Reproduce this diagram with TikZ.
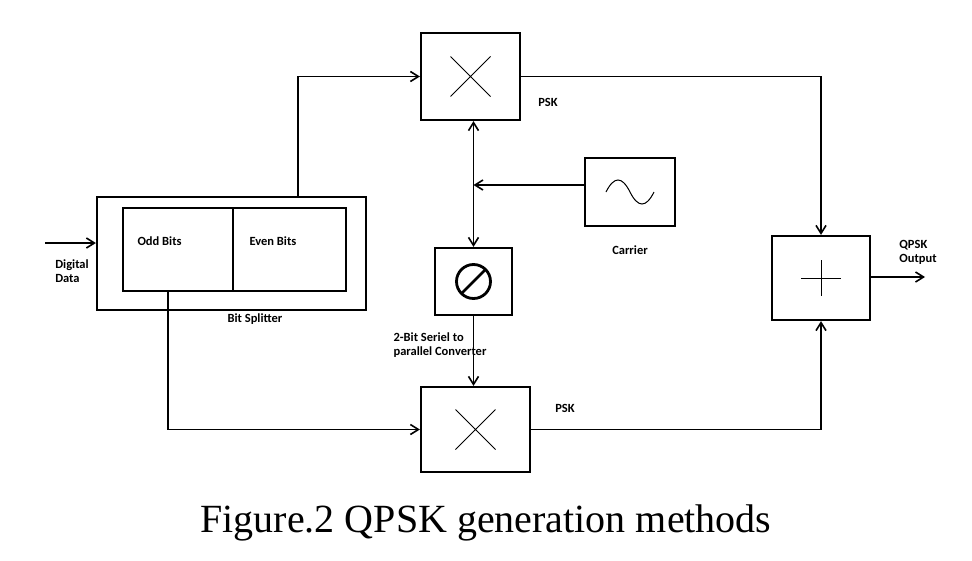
\documentclass[tikz,border=0pt]{standalone}
\usepackage{fontspec}
\setmainfont{Carlito}
\newfontfamily\capfont{Liberation Serif}
\usetikzlibrary{arrows.meta}
\begin{document}
\begin{tikzpicture}[x=1pt,y=-1pt,
  blk/.style={draw,line width=2.2pt,inner sep=0pt},
  ln/.style={line width=1.6pt},
  arr/.style={ln,-{Straight Barb[length=8pt,width=10pt]}},
  lbl/.style={font=\bfseries\fontsize{12.5}{14}\selectfont,align=left}]
\useasboundingbox (0,0) rectangle (972,560);
% blocks
\node[blk,minimum width=99pt,minimum height=87pt] (m1) at (470.5,76.5) {};
\node[blk,minimum width=109pt,minimum height=85pt] (m2) at (475.5,429.5) {};
\node[blk,minimum width=90pt,minimum height=68pt] (car) at (630,192) {};
\node[blk,minimum width=77pt,minimum height=67pt] (div) at (473.5,281.5) {};
\node[blk,minimum width=98pt,minimum height=84pt] (sum) at (821,278) {};
\node[blk,minimum width=269pt,minimum height=113pt] (bs) at (231.5,253.5) {};
\node[blk,minimum width=110pt,minimum height=83pt,anchor=north west] (odd) at (122,207) {};
\node[blk,minimum width=113pt,minimum height=83pt,anchor=north west] (even) at (232,207) {};
% symbols
\draw[line width=1pt] (m1.center)+(-20,-20) -- +(20,20) (m1.center)+(-20,20) -- +(20,-20);
\draw[line width=1pt] (m2.center)+(-20,-20) -- +(20,20) (m2.center)+(-20,20) -- +(20,-20);
\draw[line width=1pt] (sum.center)+(-20,0) -- +(20,0) (sum.center)+(0,-18) -- +(0,18);
\draw[line width=1pt] (606,192) .. controls (614,176) and (622,176) .. (630,192) .. controls (638,208) and (646,208) .. (654,192);
\draw[line width=2.8pt] (div.center) circle (17);
\draw[line width=2.8pt] (div.center)+(-12,12) -- +(12,-12);
% texts
\node[lbl,anchor=north west] at (134,233) {Odd Bits};
\node[lbl,anchor=north west] at (246,233) {Even Bits};
\node[lbl] at (255,319) {Bit Splitter};
\node[lbl] (dd) at (72,271) {Digital\\Data};
\node[lbl] at (548,102) {PSK};
\node[lbl] at (565,408) {PSK};
\node[lbl] at (630,250) {Carrier};
\node[lbl] at (440,345) {2-Bit Seriel to\\parallel Converter};
\node[lbl] at (918,252) {QPSK\\Output};
\node[font=\capfont\fontsize{40}{44}\selectfont] at (486,523) {Figure.2 QPSK generation methods};
% connectors
\coordinate (din) at (45,243);
\coordinate (qout) at (925,277);
\draw[arr] (din) -- (bs.west |- din);
\draw[arr] (298,197) |- (m1.west);
\draw[arr] (m1.east) -| (sum.north);
\draw[arr] (168,290) |- (m2.west);
\draw[arr] (m2.east) -| (sum.south);
\draw[ln,{Straight Barb[length=8pt,width=10pt]}-{Straight Barb[length=8pt,width=10pt]}] (m1.south -| div.north) -- (div.north);
\draw[arr] (car.west |- 0,185) -- (473.5,185);
\draw[arr] (div.south) -- (m2.north -| div.south);
\draw[arr] (sum.east |- qout) -- (qout);
\end{tikzpicture}
\end{document}
